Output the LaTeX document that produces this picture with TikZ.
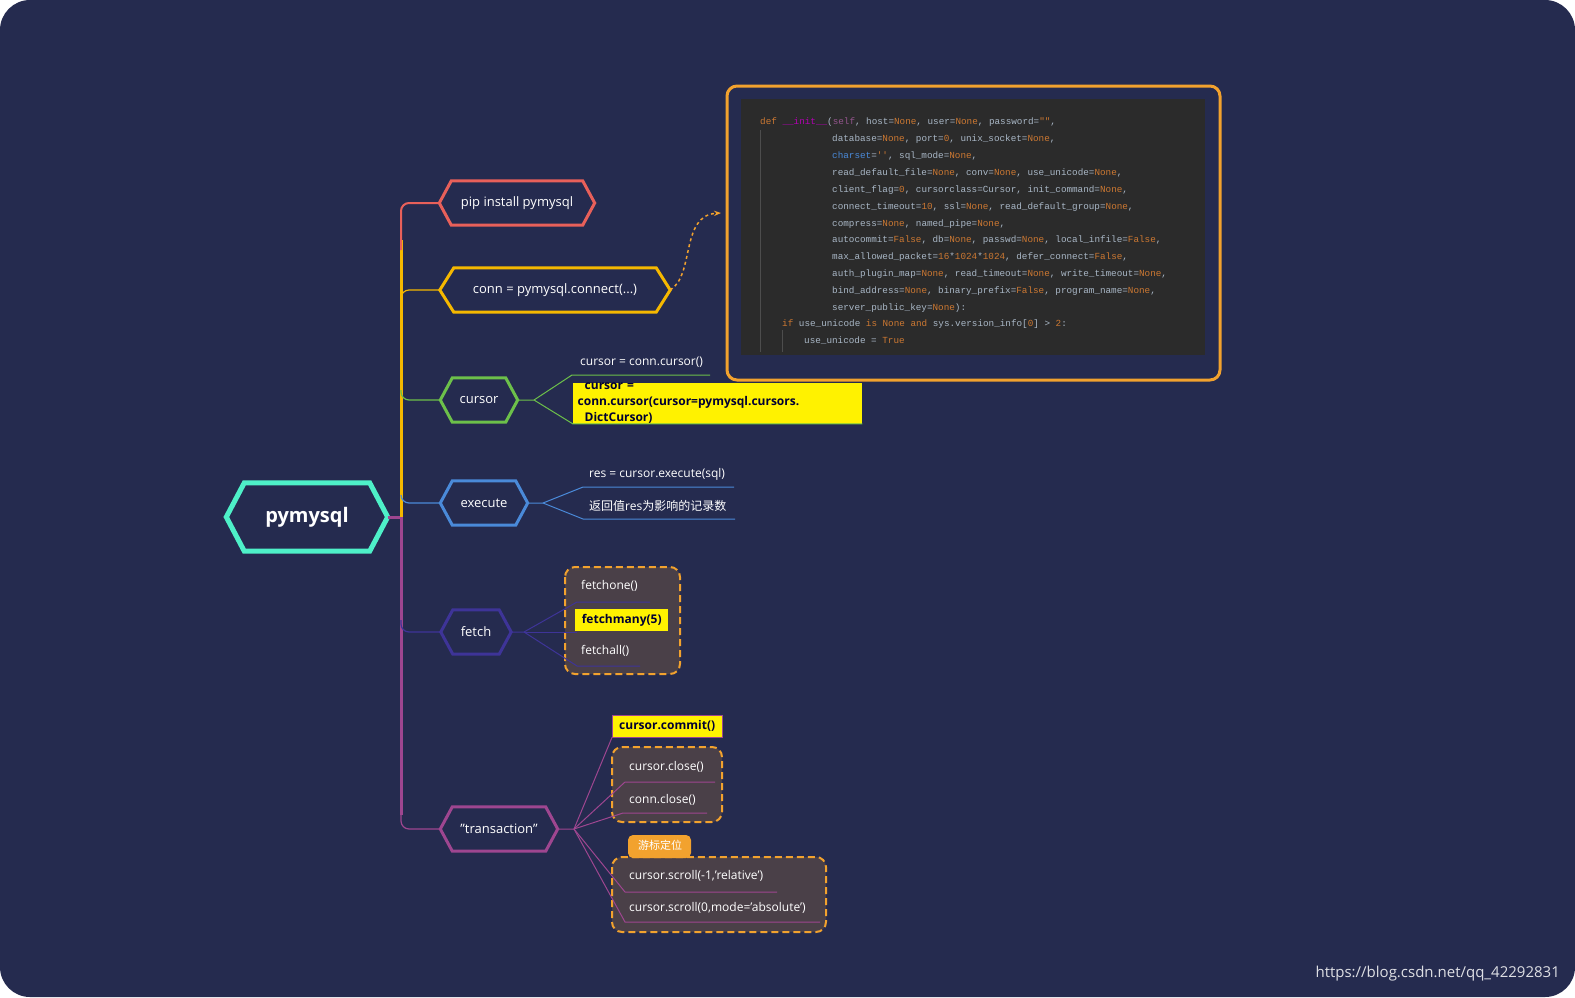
\documentclass[tikz,border=0pt]{standalone}
\usepackage{fontspec}
\setmainfont{Open Sans}
\setmonofont{Liberation Mono}
\newfontfamily\cjk{Noto Sans CJK SC}
\usetikzlibrary{arrows.meta}
\definecolor{bg}{HTML}{252B4F}
\definecolor{teal}{HTML}{4EF0C8}
\definecolor{coral}{HTML}{E8605A}
\definecolor{gold}{HTML}{F5B800}
\definecolor{grn}{HTML}{6CC04A}
\definecolor{blu}{HTML}{4A8AD9}
\definecolor{pur}{HTML}{3E3498}
\definecolor{mag}{HTML}{9E4690}
\definecolor{org}{HTML}{F2A22E}
\definecolor{codebg}{HTML}{2B2B2B}
\definecolor{cg}{HTML}{A9B7C6}
\definecolor{ck}{HTML}{CC7832}
\definecolor{cs}{HTML}{94558D}
\definecolor{ci}{HTML}{B200B2}
\definecolor{boxbg}{HTML}{4A4048}
\newcommand{\hexdraw}[3]{\draw[#2] (#1.west) -- ([xshift=#3]#1.north west) -- ([xshift=-#3]#1.north east) -- (#1.east) -- ([xshift=-#3]#1.south east) -- ([xshift=#3]#1.south west) -- cycle;}
\newcommand{\K}[1]{{\color{ck}#1}}
\begin{document}
\begin{tikzpicture}[x=1pt,y=-1pt,
  hexn/.style={minimum height=44pt,inner sep=0pt,text=white,font=\fontsize{13}{15}\selectfont},
  lbl/.style={anchor=west,inner sep=0pt,text=white,font=\fontsize{12}{14}\selectfont},
  ylbl/.style={anchor=north west,fill=yellow,text=black!80!blue,inner sep=0pt,font=\fontsize{12}{16}\selectfont\bfseries},
  dbox/.style={draw=org,dashed,dash pattern=on 7pt off 4pt,line width=2pt,rounded corners=10pt,fill=boxbg},
  code/.style={anchor=west,inner sep=0pt,text=cg,font=\fontsize{9.3}{10}\ttfamily},
  br/.style={line width=1.2pt,rounded corners=8pt}]
\useasboundingbox (0,0) rectangle (1575,997);
\fill[bg,rounded corners=30pt] (0,0) rectangle (1575,997);
% nodes
\node[hexn,minimum width=161pt,font=\fontsize{20}{24}\selectfont\bfseries,minimum height=68pt] (root) at (307,517) {pymysql};
\hexdraw{root}{teal,line width=5pt}{18pt}
\node[hexn,minimum width=155pt] (pip) at (517,203) {pip install pymysql};
\hexdraw{pip}{coral,line width=3pt}{12pt}
\node[hexn,minimum width=230pt] (conn) at (555,290) {conn = pymysql.connect(...)};
\hexdraw{conn}{gold,line width=3pt}{14pt}
\node[hexn,minimum width=77pt] (cur) at (479,400) {cursor};
\hexdraw{cur}{grn,line width=3pt}{12pt}
\node[hexn,minimum width=87pt] (exe) at (484,503) {execute};
\hexdraw{exe}{blu,line width=3pt}{12pt}
\node[hexn,minimum width=70pt] (fet) at (476,632) {fetch};
\hexdraw{fet}{pur,line width=3pt}{12pt}
\node[hexn,minimum width=117pt] (tra) at (499,829) {"transaction"};
\hexdraw{tra}{mag,line width=3pt}{12pt}
% trunk
\coordinate (tj) at (401,517);
\draw[mag,line width=3pt] (root.east) -- (tj);
\draw[gold,line width=3pt] (tj) -- (401,240);
\draw[coral,line width=2pt,rounded corners=8pt] (401,250) -- (401,203) -- (pip.west);
\draw[gold,br] (401,300) |- (conn.west);
\draw[grn,br] (401,390) |- (cur.west);
\draw[blu,br] (401,495) |- (exe.west);
\draw[mag,line width=3pt] (tj) -- (401,815);
\draw[mag,br] (401,800) |- (tra.west);
\draw[pur,br] (401,620) |- (fet.west);
% code box
\draw[org,line width=3pt,rounded corners=10pt,fill=bg] (727,86) rectangle (1220,380);
\fill[codebg] (741,99) rectangle (1205,355);
\draw[gray!40!codebg] (760,130) -- (760,352);
\draw[gray!40!codebg] (782,330) -- (782,352);
\node[code] (c1) at (760,122) {\K{def} {\color{ci}\_\_init\_\_}(\textcolor{cs}{self}, host=\K{None}, user=\K{None}, password=\K{""},};
\node[code] at (832,139) {database=\K{None}, port=\K{0}, unix\_socket=\K{None},};
\node[code] at (832,156) {{\color{blu}charset}=\K{''}, sql\_mode=\K{None},};
\node[code] at (832,173) {read\_default\_file=\K{None}, conv=\K{None}, use\_unicode=\K{None},};
\node[code] at (832,190) {client\_flag=\K{0}, cursorclass=Cursor, init\_command=\K{None},};
\node[code] at (832,207) {connect\_timeout=\K{10}, ssl=\K{None}, read\_default\_group=\K{None},};
\node[code] at (832,224) {compress=\K{None}, named\_pipe=\K{None},};
\node[code] at (832,240) {autocommit=\K{False}, db=\K{None}, passwd=\K{None}, local\_infile=\K{False},};
\node[code] at (832,257) {max\_allowed\_packet=\K{16}*\K{1024}*\K{1024}, defer\_connect=\K{False},};
\node[code] at (832,274) {auth\_plugin\_map=\K{None}, read\_timeout=\K{None}, write\_timeout=\K{None},};
\node[code] at (832,291) {bind\_address=\K{None}, binary\_prefix=\K{False}, program\_name=\K{None},};
\node[code] at (832,308) {server\_public\_key=\K{None}):};
\node[code] at (782,324) {\K{if} use\_unicode \K{is None and} sys.version\_info[\K{0}] > \K{2}:};
\node[code] at (804,341) {use\_unicode = \K{True}};
\coordinate (codein) at (721,213);
\draw[org,line width=1.5pt,dashed,-{Stealth[length=7pt]}] (conn.east) .. controls (695,275) and (680,215) .. (codein);
% cursor children
\coordinate (cj) at (534,400);
\draw[grn,line width=1pt] (cur.east) -- (cj) -- (572,375) -- (710,375);
\node[lbl] (c1l) at (580,362) {cursor = conn.cursor()};
\node[ylbl,minimum width=289pt,minimum height=40pt,text width=280pt,align=left] (c2l) at (573,383) {\hspace*{7pt}\raisebox{0pt}{}cursor = conn.cursor(cursor=pymysql.cursors.\\\hspace*{7pt}DictCursor)};
\draw[grn,line width=1pt] (cj) -- (c2l.south west) -- (c2l.south east);
% execute children
\coordinate (ej) at (543,503);
\draw[blu,line width=1pt] (exe.east) -- (ej) -- (583,487) -- (734,487);
\draw[blu,line width=1pt] (ej) -- (583,519) -- (735,519);
\node[lbl] (e1) at (589,474) {res = cursor.execute(sql)};
\node[lbl] (e2) at (589,506) {{\cjk 返回值}res{\cjk 为影响的记录数}};
% fetch
\draw[dbox] (565,567) rectangle (680,674);
\coordinate (fj) at (524,632);
\draw[pur,line width=1pt] (fet.east) -- (fj) -- (577,602) -- (650,602);
\draw[pur,line width=1pt] (fj) -- (577,632);
\draw[pur,line width=1pt] (fj) -- (577,666) -- (640,666);
\node[lbl] (f1) at (581,586) {fetchone()};
\node[ylbl,minimum width=93pt,minimum height=22pt,align=center] (f2) at (575,609) {fetchmany(5)};
\node[lbl] (f3) at (581,651) {fetchall()};
% transaction
\draw[dbox] (612,747) rectangle (722,822);
\draw[dbox] (612,857) rectangle (826,932);
\fill[org,rounded corners=5pt] (628,858) -- (628,835) -- (691,835) -- (691,858) -- cycle;
\node[text=white,inner sep=0pt,font=\fontsize{11}{12}\cjk\itshape] (tag) at (660,845) {游标定位};
\coordinate (tj2) at (574,829);
\node[ylbl,minimum width=110pt,minimum height=22pt,align=center,draw=mag] (t1) at (612,715) {cursor.commit()};
\draw[mag,line width=1pt] (tra.east) -- (tj2) -- (t1.south west);
\draw[mag,line width=1pt] (tj2) -- (625,782) -- (715,782);
\draw[mag,line width=1pt] (tj2) -- (623,813) -- (707,813);
\draw[mag,line width=1pt] (tj2) -- (625,892) -- (777,892);
\draw[mag,line width=1pt] (tj2) -- (625,922) -- (820,922);
\node[lbl] (t2) at (629,767) {cursor.close()};
\node[lbl] (t3) at (629,800) {conn.close()};
\node[lbl] (t4) at (629,876) {cursor.scroll(-1,'relative')};
\node[lbl] (t5) at (629,908) {cursor.scroll(0,mode='absolute')};
\node[anchor=east,inner sep=0pt,text=white!85!bg,font=\fontsize{15}{17}\selectfont] (wm) at (1560,974) {https://blog.csdn.net/qq\_42292831};
\end{tikzpicture}
\end{document}
